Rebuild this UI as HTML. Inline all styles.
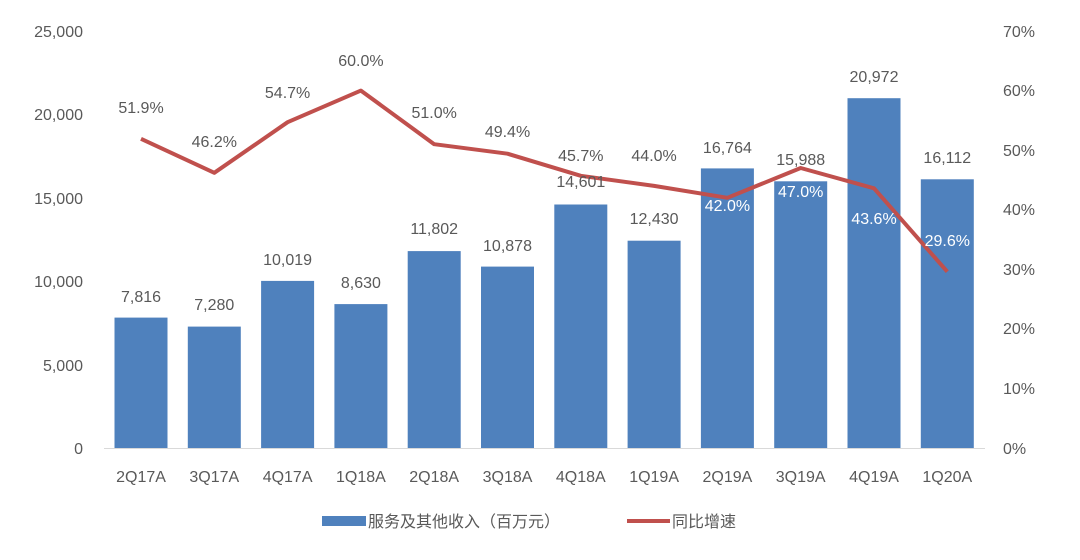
<!DOCTYPE html>
<html><head><meta charset="utf-8"><style>
body{margin:0;background:#fff}
svg text{font-family:"Liberation Sans","Noto Sans CJK SC",sans-serif;font-size:16px;fill:#595959}
</style></head><body>
<svg width="1080" height="555" xmlns="http://www.w3.org/2000/svg">
<line x1="104" y1="448.5" x2="985" y2="448.5" stroke="#d9d9d9"/>
<g text-anchor="end">
<text x="83" y="37">25,000</text><text x="83" y="120">20,000</text><text x="83" y="204">15,000</text><text x="83" y="287">10,000</text><text x="83" y="371">5,000</text><text x="83" y="454">0</text>
</g>
<g>
<text x="1003" y="37">70%</text><text x="1003" y="96">60%</text><text x="1003" y="156">50%</text><text x="1003" y="215">40%</text><text x="1003" y="275">30%</text><text x="1003" y="334">20%</text><text x="1003" y="394">10%</text><text x="1003" y="454">0%</text>
</g>
<g fill="#4f81bd">
<rect x="114.5" y="317.6" width="53" height="130.4"/>
<rect x="187.8" y="326.6" width="53" height="121.4"/>
<rect x="261.1" y="280.9" width="53" height="167.1"/>
<rect x="334.4" y="304.1" width="53" height="143.9"/>
<rect x="407.7" y="251.1" width="53" height="196.9"/>
<rect x="481" y="266.6" width="53" height="181.4"/>
<rect x="554.3" y="204.5" width="53" height="243.5"/>
<rect x="627.6" y="240.7" width="53" height="207.3"/>
<rect x="700.9" y="168.4" width="53" height="279.6"/>
<rect x="774.2" y="181.3" width="53" height="266.7"/>
<rect x="847.5" y="98.2" width="53" height="349.8"/>
<rect x="920.8" y="179.3" width="53" height="268.7"/>
</g>
<polyline fill="none" stroke="#c0504d" stroke-width="4" stroke-linejoin="round" points="141,138.8 214.3,172.8 287.6,122.2 360.9,90.6 434.2,144.2 507.5,153.7 580.8,175.8 654.1,185.9 727.4,197.8 800.7,168 874,188.3 947.3,271.7"/>
<g text-anchor="middle">
<text x="141" y="302">7,816</text><text x="214.3" y="310">7,280</text><text x="287.6" y="265">10,019</text><text x="360.9" y="288">8,630</text><text x="434.2" y="234">11,802</text><text x="507.5" y="251">10,878</text><text x="580.8" y="187">14,601</text><text x="654.1" y="224">12,430</text><text x="727.4" y="153">16,764</text><text x="800.7" y="165">15,988</text><text x="874" y="82">20,972</text><text x="947.3" y="163">16,112</text>
<text x="141" y="113">51.9%</text><text x="214.3" y="147">46.2%</text><text x="287.6" y="98">54.7%</text><text x="360.9" y="66">60.0%</text><text x="434.2" y="118">51.0%</text><text x="507.5" y="137">49.4%</text><text x="580.8" y="161">45.7%</text><text x="654.1" y="161">44.0%</text>
<text x="727.4" y="211" style="fill:#fff">42.0%</text><text x="800.7" y="197" style="fill:#fff">47.0%</text><text x="874" y="224" style="fill:#fff">43.6%</text><text x="947.3" y="246" style="fill:#fff">29.6%</text>
<text x="141" y="482">2Q17A</text><text x="214.3" y="482">3Q17A</text><text x="287.6" y="482">4Q17A</text><text x="360.9" y="482">1Q18A</text><text x="434.2" y="482">2Q18A</text><text x="507.5" y="482">3Q18A</text><text x="580.8" y="482">4Q18A</text><text x="654.1" y="482">1Q19A</text><text x="727.4" y="482">2Q19A</text><text x="800.7" y="482">3Q19A</text><text x="874" y="482">4Q19A</text><text x="947.3" y="482">1Q20A</text>
</g>
<rect x="322" y="516" width="44" height="10" fill="#4f81bd"/>
<text x="368" y="527">服务及其他收入（百万元）</text>
<line x1="627" y1="521" x2="670" y2="521" stroke="#c0504d" stroke-width="4"/>
<text x="672" y="527">同比增速</text>
</svg>
</body></html>
